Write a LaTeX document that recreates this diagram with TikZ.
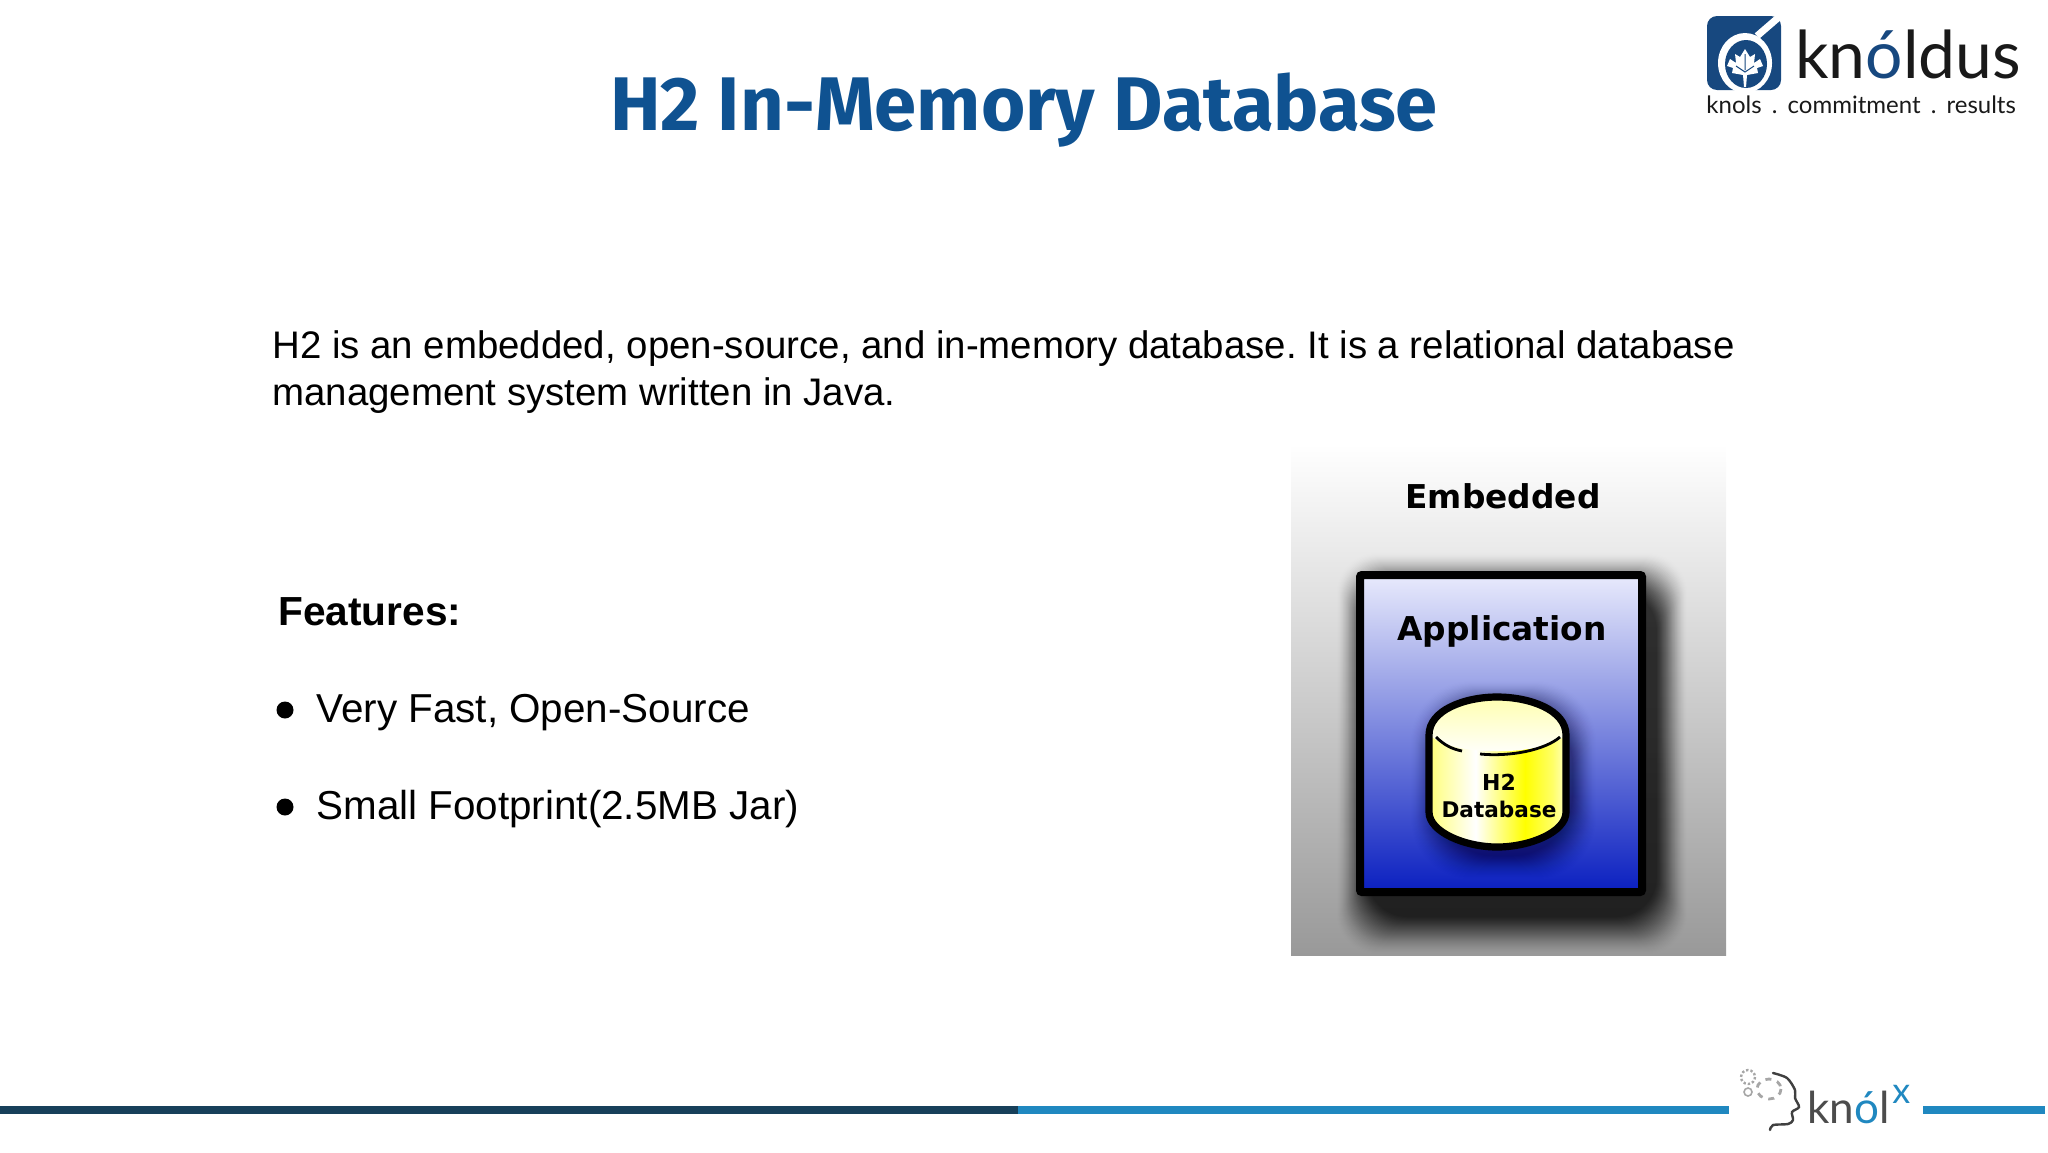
\documentclass[tikz,border=0pt]{standalone}
\usepackage{fontspec}
\setmainfont{Liberation Sans}
\newfontfamily\titlefont{Fira Sans}
\newfontfamily\figfont{DejaVu Sans}
\newfontfamily\logofont{Lato}
\usepackage{xcolor}
\usetikzlibrary{positioning}
\definecolor{titleblue}{HTML}{0F5291}
\definecolor{logoblue}{HTML}{17487F}
\definecolor{bardark}{HTML}{17405A}
\definecolor{barblue}{HTML}{2088C0}
\definecolor{apptop}{HTML}{E8EAFC}
\definecolor{appmid}{HTML}{6A7DDF}
\definecolor{appbot}{HTML}{0A1FC0}
\pgfdeclarehorizontalshading{cylbody}{100bp}{
    color(0bp)=(yellow!55!white); color(25bp)=(yellow!55!white); color(29bp)=(yellow!40!white);
    color(42bp)=(white); color(60bp)=(yellow); color(70bp)=(yellow!60!white);
    color(75bp)=(yellow!25!white); color(100bp)=(yellow!25!white)}
\tikzset{
    bodytext/.style = {inner sep=0pt, anchor=base west, text=black, font=\fontsize{20.2}{23}\selectfont},
    figtext/.style = {inner sep=0pt, text=black, font=\figfont\bfseries},
    dotmark/.style = {circle, fill=black, inner sep=0pt, minimum size=8.5pt},
    barline/.style = {line width=4pt},
    shadowlayer/.style = {fill=black, rounded corners=20pt},
    cylshadow/.style = {fill=black!80!blue, rounded corners=30pt},
    logotext/.style = {inner sep=0pt, anchor=base west, text=black!90},
    gear/.style = {draw=gray!70, densely dotted, line width=1.2pt}
}
\newcommand{\cylpath}{(1429,735) .. controls (1429,710) and (1465,697) .. (1497,697)
    .. controls (1530,697) and (1566,710) .. (1566,735) -- (1566,812)
    .. controls (1566,832) and (1530,847) .. (1497,847)
    .. controls (1465,847) and (1429,832) .. (1429,812) -- cycle}
\begin{document}
\frenchspacing
\begin{tikzpicture}[x=0.5pt,y=-0.5pt]
    \useasboundingbox (0,0) rectangle (2048,1152);
    % heading
    \node [inner sep=0pt, text=titleblue, font=\titlefont\bfseries\fontsize{38}{40}\selectfont] (title) at (1024,110) {H2 In-Memory Database};
    % text block
    \node [bodytext, font=\fontsize{19.2}{23}\selectfont] (intro1) at (272,358) {H2 is an embedded, open-source, and in-memory database. It is a relational database};
    \node [bodytext, font=\fontsize{19.2}{23}\selectfont] (intro2) at (272,405) {management system written in Java.};
    \node [bodytext, font=\fontsize{20.3}{23}\selectfont\bfseries] (features) at (278,625) {Features:};
    \node [dotmark] (bull1) at (285,710) {};
    \node [bodytext] (item1) at (316,722) {Very Fast, Open-Source};
    \node [dotmark] (bull2) at (285,807) {};
    \node [bodytext] (item2) at (316,819) {Small Footprint(2.5MB Jar)};
    % figure
    \shade [top color=white, middle color=black!18, bottom color=black!40] (1291,444) rectangle (1726,955);
    \foreach \i [evaluate=\i as \a using {0.07*(1-\i/40)}] in {39,...,1}
        \fill [shadowlayer, opacity=\a] (1357+11-\i*0.82,571+20-\i) rectangle (1645+11+\i*0.82,896+20+\i);
    \shade [top color=apptop, middle color=appmid, bottom color=appbot] (1360,575) rectangle (1642,892);
    \draw [line width=4pt, rounded corners=1pt] (1360,575) rectangle (1642,892);
    \foreach \i [evaluate=\i as \a using {0.06*(1-\i/25)}] in {24,...,1}
        \fill [cylshadow, opacity=\a] (1429+6-\i,697+8-\i) rectangle (1566+6+\i,847+8+\i);
    \shade [shading=cylbody] \cylpath;
    \shade [top color=yellow!30!white, bottom color=white] (1432,737) .. controls (1432,712) and (1465,699) .. (1497,699)
        .. controls (1530,699) and (1563,712) .. (1563,737) .. controls (1540,756) and (1455,756) .. (1432,737) -- cycle;
    \draw [line width=3.6pt] \cylpath;
    \draw [line width=1.4pt] (1436,737) .. controls (1444,745) and (1452,749) .. (1462,751);
    \draw [line width=1.4pt] (1480,754) .. controls (1510,757) and (1545,750) .. (1560,737);
    \node [figtext, font=\figfont\bfseries\fontsize{16.4}{18}\selectfont] (embedded) at (1503,496) {Embedded};
    \node [figtext, font=\figfont\bfseries\fontsize{16.4}{18}\selectfont] (application) at (1502,631) {Application};
    \node [figtext, font=\figfont\bfseries\fontsize{11}{13}\selectfont] (dbname) at (1499,782) {H2};
    \node [figtext, font=\figfont\bfseries\fontsize{10.8}{13}\selectfont] (dbtext) at (1499,809) {Database};
    % footer bars
    \draw [barline, bardark] (0,1110) -- (1018,1110);
    \draw [barline, barblue] (1018,1110) -- (1729,1110);
    \draw [barline, barblue] (1923,1110) -- (2045,1110);
    % knoldus logo
    \fill [logoblue, rounded corners=5pt] (1707,16) rectangle (1781,90);
    \begin{scope}
        \clip (1707,16) rectangle (1781,90);
        \fill [white] (1745,63) ellipse (27 and 30);
    \end{scope}
    \fill [logoblue] (1746,64) ellipse (21 and 24);
    \draw [white, line width=3.5pt] (1757,36) -- (1779,17);
    \fill [white] (1745,49) -- (1750,57) -- (1755,54) -- (1754,63) -- (1760,59) -- (1763,66) -- (1757,68) -- (1758,73) -- (1747,75)
        -- (1746,87) -- (1744,87) -- (1743,75) -- (1732,73) -- (1733,68) -- (1727,66) -- (1730,59) -- (1736,63) -- (1735,54) -- (1740,57) -- cycle;
    \draw [logoblue, line width=0.5pt] (1745,54) -- (1745,70) (1736,66) -- (1745,72) -- (1754,66);
    \node [logotext, font=\logofont\fontsize{33}{36}\selectfont] (knoldus) at (1795,78) {kn\textcolor{logoblue}{ó}ldus};
    \node [logotext, font=\logofont\fontsize{12}{15}\selectfont] (tagline) at (1706,113) {knols\, .\, commitment\, .\, results};
    % knolx logo
    \draw [black!75, line width=1.2pt, line cap=round] plot [smooth] coordinates {(1770,1130) (1773,1125) (1788,1124) (1793,1120) (1792,1112) (1799,1107) (1795,1098) (1795,1090) (1787,1078) (1773,1073)};
    \draw [gear] (1748,1077) circle (7);
    \draw [gear, solid, line width=0.8pt] (1748,1092) circle (4);
    \draw [gear, dashed, line width=1.4pt] (1769,1089) ellipse (12 and 10);
    \node [logotext, text=black!70, font=\logofont\fontsize{22}{23}\selectfont] (knol) at (1807,1123) {kn\textcolor{barblue}{ó}l};
    \node [logotext, text=barblue, font=\logofont\fontsize{18}{19}\selectfont] (knolx) at (1892,1103) {x};
\end{tikzpicture}
\end{document}
